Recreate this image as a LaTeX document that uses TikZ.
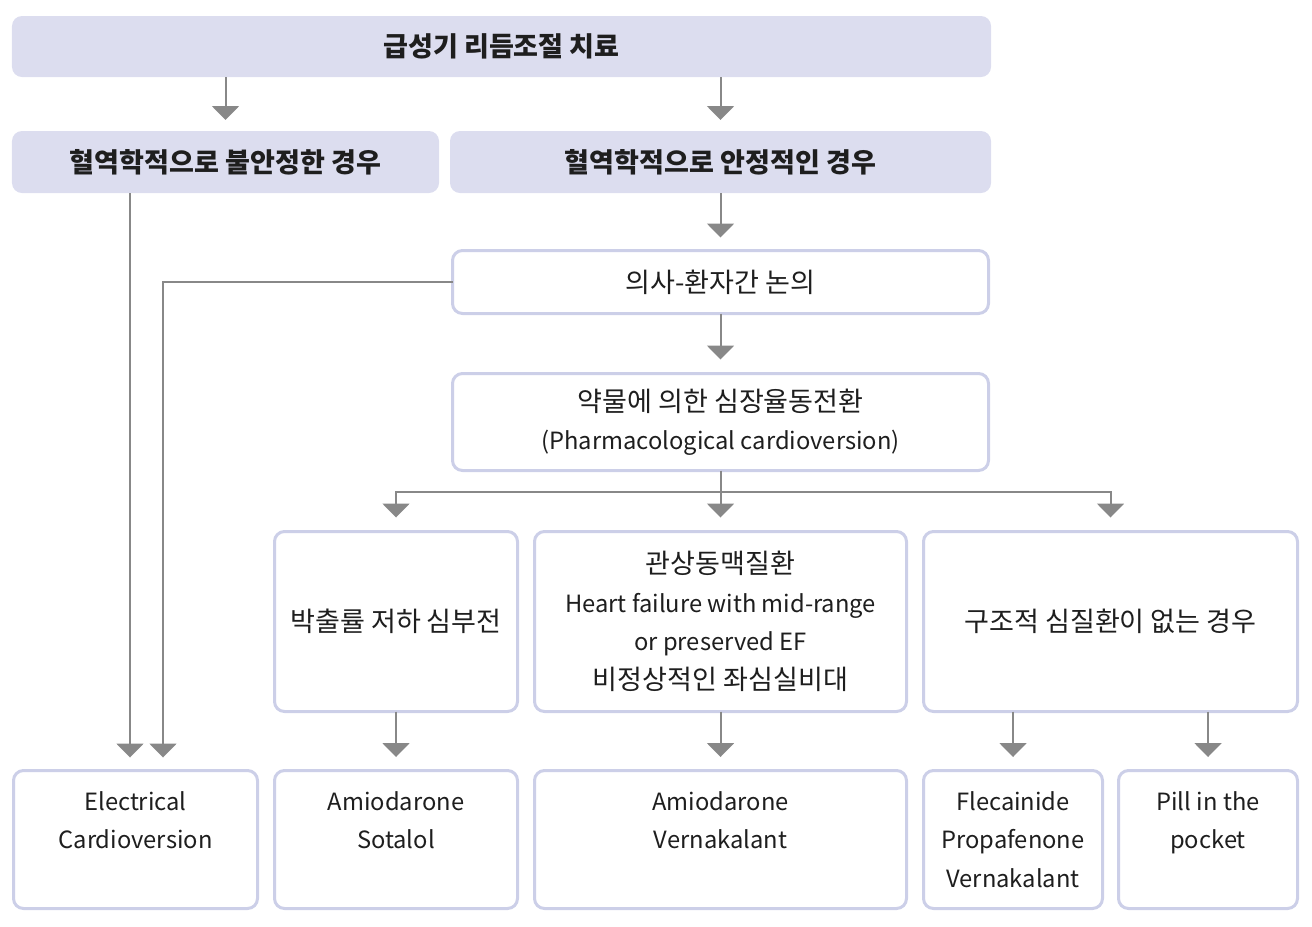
\documentclass[tikz,border=0pt]{standalone}
\usepackage{fontspec}
\setmainfont{Noto Sans CJK KR}
\usepackage{tikz}
\usetikzlibrary{arrows.meta, positioning}

\definecolor{hdfill}{RGB}{220,221,239}
\definecolor{boxline}{RGB}{204,207,232}
\definecolor{arrgray}{RGB}{136,136,136}
\definecolor{txt}{RGB}{30,30,30}

\newcommand{\lat}{\fontsize{13.5}{21.9}\selectfont}

\tikzset{
    hdbox/.style={fill=hdfill, rounded corners=0.2cm, inner sep=0pt, outer sep=0pt,
        text=txt, font=\fontsize{15.4}{21.9}\selectfont\bfseries},
    wbox/.style={draw=boxline, line width=0.06cm, fill=white, rounded corners=0.2cm,
        inner sep=0pt, outer sep=0pt, align=center, text=txt,
        font=\fontsize{15.4}{21.9}\selectfont},
    latbox/.style={wbox, font=\lat},
    ln/.style={draw=arrgray, line width=0.04cm},
    arr/.style={ln, -{Triangle[width=0.54cm, length=0.28cm]}},
}

\begin{document}
\begin{tikzpicture}
    \useasboundingbox (0,0) rectangle (26.24,-18.52);

    \node[hdbox, minimum width=19.58cm, minimum height=1.22cm] (top) at (10.03,-0.93) {급성기 리듬조절 치료};
    \node[hdbox, minimum width=8.54cm, minimum height=1.24cm] (unst) at (4.51,-3.24) {혈역학적으로 불안정한 경우};
    \node[hdbox, minimum width=10.82cm, minimum height=1.24cm] (stab) at (14.41,-3.24) {혈역학적으로 안정적인 경우};

    \node[wbox, minimum width=10.72cm, minimum height=1.26cm] (talk) at (14.41,-5.64) {의사-환자간 논의};
    \node[wbox, minimum width=10.72cm, minimum height=1.94cm] (drug) at (14.41,-8.44)
        {약물에 의한 심장율동전환\\{\lat (Pharmacological cardioversion)}};

    \node[wbox, minimum width=4.86cm, minimum height=3.6cm] (hfr) at (7.92,-12.43) {박출률 저하 심부전};
    \node[wbox, minimum width=7.44cm, minimum height=3.6cm] (cad) at (14.41,-12.43)
        {관상동맥질환\\{\lat Heart failure with mid-range}\\{\lat or preserved EF}\\비정상적인 좌심실비대};
    \node[wbox, minimum width=7.48cm, minimum height=3.6cm] (nostr) at (22.21,-12.43) {구조적 심질환이 없는 경우};

    \node[latbox, minimum width=4.88cm, minimum height=2.76cm] (elec) at (2.71,-16.79) {Electrical\\Cardioversion\\~};
    \node[latbox, minimum width=4.86cm, minimum height=2.76cm] (amsot) at (7.92,-16.79) {Amiodarone\\Sotalol\\~};
    \node[latbox, minimum width=7.44cm, minimum height=2.76cm] (amver) at (14.41,-16.79) {Amiodarone\\Vernakalant\\~};
    \node[latbox, minimum width=3.58cm, minimum height=2.76cm] (flec) at (20.26,-16.79) {Flecainide\\Propafenone\\Vernakalant};
    \node[latbox, minimum width=3.58cm, minimum height=2.76cm] (pill) at (24.16,-16.79) {Pill in the\\pocket\\~};

    % top level
    \draw[arr] (top.south -| unst.north) -- ([yshift=0.22cm]unst.north);
    \draw[arr] (top.south -| stab.north) -- ([yshift=0.22cm]stab.north);

    % unstable and discussion to electrical
    \draw[arr] ([xshift=-1.91cm]unst.south) -- ([xshift=-1.91cm, yshift=0.26cm]unst.south |- elec.north);
    \draw[arr] (talk.west) -| ([xshift=0.55cm, yshift=0.26cm]elec.north);

    \draw[arr] (stab.south) -- ([yshift=0.26cm]talk.north);
    \draw[arr] (talk.south) -- ([yshift=0.28cm]drug.north);

    % split
    \draw[ln] (drug.south) -- ++(0,-0.43) coordinate (split);
    \draw[arr] (split) -| ([yshift=0.28cm]hfr.north);
    \draw[arr] (split) -| ([yshift=0.28cm]nostr.north);
    \draw[arr] (split) -- ([yshift=0.28cm]cad.north);

    % to drugs
    \draw[arr] (hfr.south) -- ([yshift=0.27cm]amsot.north);
    \draw[arr] (cad.south) -- ([yshift=0.27cm]amver.north);
    \draw[arr] (nostr.south -| flec.north) -- ([yshift=0.27cm]flec.north);
    \draw[arr] (nostr.south -| pill.north) -- ([yshift=0.27cm]pill.north);
\end{tikzpicture}
\end{document}
